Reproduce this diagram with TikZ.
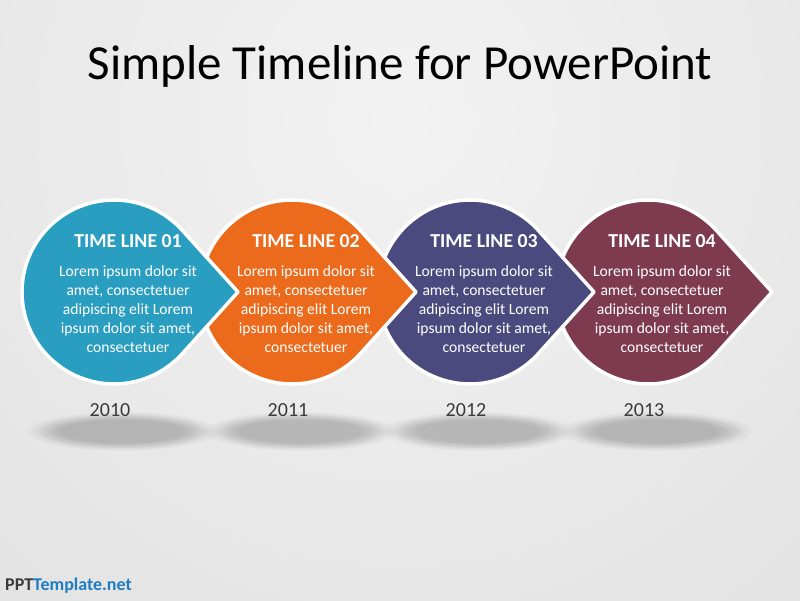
\documentclass[tikz,border=0pt]{standalone}
\usepackage{fontspec}
\setmainfont{Carlito}
\usetikzlibrary{fadings}
\definecolor{tlblue}{HTML}{2A9EC0}
\definecolor{tlorange}{HTML}{EC6A1C}
\definecolor{tlnavy}{HTML}{4A4A7E}
\definecolor{tlmaroon}{HTML}{7E3A4E}
\definecolor{yeargray}{HTML}{3A3A3A}
\definecolor{siteblue}{HTML}{1F7EC1}
\tikzset{
	drop/.style={line width=3.5pt,draw=white,line join=round},
	heading/.style={font=\bfseries\fontsize{19.8}{20}\selectfont,text=white,anchor=base},
	body/.style={font=\fontsize{15.6}{19}\selectfont,text=white,align=center},
	year/.style={font=\fontsize{20}{20}\selectfont,text=yeargray,anchor=base},
	shadowblob/.style={black,opacity=0.08,path fading=circle with fuzzy edge 20 percent},
}
\begin{document}
\begin{tikzpicture}[x=1pt,y=1pt]
				\def\rad{92} \def\tip{124} \def\gap{178}
				\def\cy{308}
				\pgfmathsetmacro\ang{acos(\rad/\tip)}
				% background
				\fill[gray!26] (0,0) rectangle (800,600);
				\begin{scope}
					\clip (0,0) rectangle (800,600);
					\shade[inner color=gray!10, outer color=gray!26] (400,480) circle (850);
				\end{scope}
				\useasboundingbox (0,0) rectangle (800,600);
				\node[anchor=base,font=\fontsize{49}{49}\selectfont] (title) at (400,520) {Simple Timeline for PowerPoint};
				% shadows
				\foreach \i in {0,...,3}
					\foreach \k in {0,1,2}
						\fill[shadowblob] (122+\gap*\i,169) ellipse [x radius=98-12*\k, y radius=20-3*\k];
				% drops, drawn from right to left
				\foreach \i/\col in {3/tlmaroon,2/tlnavy,1/tlorange,0/tlblue} {
					\pgfmathsetmacro\cx{114+\gap*\i}
					\filldraw[drop,fill=\col] ([shift={(\cx,\cy)}]\ang:\rad) arc[start angle=\ang, end angle=360-\ang, radius=\rad] -- (\cx+\tip,\cy) -- cycle;
				}
				% texts
				\foreach \i/\nr/\yr in {0/01/2010,1/02/2011,2/03/2012,3/04/2013} {
					\node[heading] (head\nr) at (128+\gap*\i,352) {TIME LINE \nr};
					\node[body] (text\nr) at (128+\gap*\i,291) {Lorem ipsum dolor sit\\amet, consectetuer\\adipiscing elit Lorem\\ipsum dolor sit amet,\\consectetuer};
					\node[year] (year\nr) at (110+\gap*\i,183) {\yr};
				}
				\node[anchor=base west,inner sep=0pt,font=\bfseries\fontsize{18}{18}\selectfont] (site) at (5,10) {\textcolor{yeargray}{PPT}\textcolor{siteblue}{Template.net}};
			\end{tikzpicture}
\end{document}
